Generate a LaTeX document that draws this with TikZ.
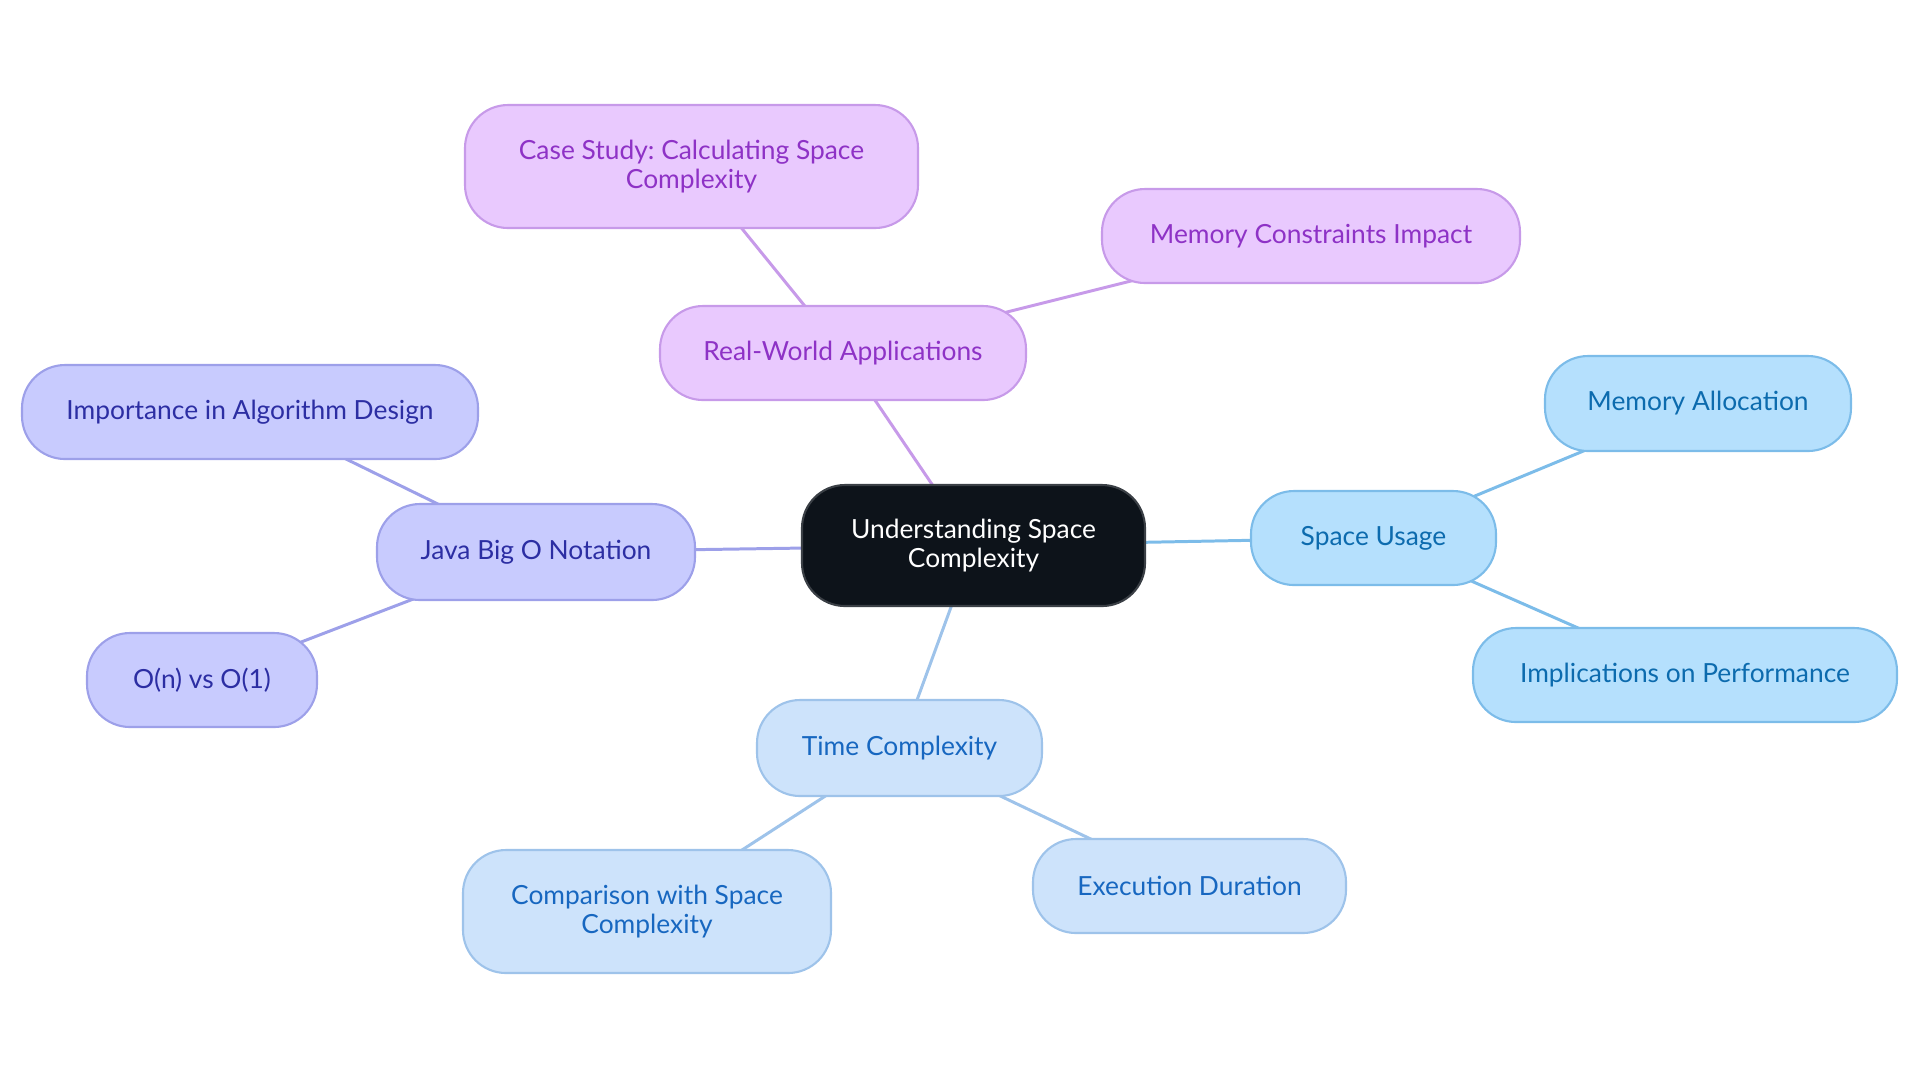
\documentclass[tikz,border=0pt]{standalone}
\usepackage{fontspec}
\setmainfont{Lato}
\usepackage{tikz}
\usetikzlibrary{backgrounds}
\definecolor{rootfill}{HTML}{0D131A}
\definecolor{rootline}{HTML}{3A3F45}
\definecolor{appfill}{HTML}{E9C9FE}
\definecolor{appline}{HTML}{C79AE9}
\definecolor{apptext}{HTML}{8E32C6}
\definecolor{notefill}{HTML}{C8CBFE}
\definecolor{noteline}{HTML}{9DA0E9}
\definecolor{notetext}{HTML}{2C2EA3}
\definecolor{usefill}{HTML}{B5E0FD}
\definecolor{useline}{HTML}{7CBCE9}
\definecolor{usetext}{HTML}{0C6BAE}
\definecolor{timefill}{HTML}{CDE3FB}
\definecolor{timeline}{HTML}{9EC3EA}
\definecolor{timetext}{HTML}{1767C0}
\frenchspacing

\begin{document}
\begin{tikzpicture}[x=0.1mm,y=-0.1mm,
  box/.style={rounded corners=4.3mm,align=center,line width=0.6pt,
    minimum height=9.4mm,inner sep=0pt,font=\fontsize{7.5}{8.1}\selectfont},
  root/.style={box,draw=rootline,fill=rootfill,text=white},
  appbox/.style={box,draw=appline,fill=appfill,text=apptext},
  notebox/.style={box,draw=noteline,fill=notefill,text=notetext},
  usebox/.style={box,draw=useline,fill=usefill,text=usetext},
  timebox/.style={box,draw=timeline,fill=timefill,text=timetext},
  link/.style={line width=0.85pt}]
\useasboundingbox (0,0) rectangle (1920,1083);
\node[root,minimum width=34.3mm,minimum height=12.1mm] (space) at (973.5,545.5)
  {Understanding Space\\Complexity};

% real-world applications
\node[appbox,minimum width=36.6mm] (apps) at (843,353) {Real-World Applications};
\node[appbox,minimum width=45.3mm,minimum height=12.3mm] (casestudy) at (691.5,166.5)
  {Case Study: Calculating Space\\Complexity};
\node[appbox,minimum width=41.8mm] (constraints) at (1311,236) {Memory Constraints Impact};

% java big o notation
\node[notebox,minimum width=31.8mm,minimum height=9.6mm] (bigo) at (536,552) {Java Big O Notation};
\node[notebox,minimum width=45.6mm] (design) at (250,412) {Importance in Algorithm Design};
\node[notebox,minimum width=23mm] (oncmp) at (202,680) {O(n) vs O(1)};

% space usage
\node[usebox,minimum width=24.5mm] (usage) at (1373.5,538) {Space Usage};
\node[usebox,minimum width=30.6mm,minimum height=9.5mm] (alloc) at (1698,403.5) {Memory Allocation};
\node[usebox,minimum width=42.4mm] (perf) at (1685,675) {Implications on Performance};

% time complexity
\node[timebox,minimum width=28.5mm,minimum height=9.6mm] (time) at (899.5,748) {Time Complexity};
\node[timebox,minimum width=36.8mm,minimum height=12.3mm] (compare) at (647,911.5)
  {Comparison with Space\\Complexity};
\node[timebox,minimum width=31.3mm] (duration) at (1189.5,886) {Execution Duration};

% connectors run centre to centre, behind the boxes
\begin{scope}[on background layer]
\draw[link,appline] (space.center) -- (apps.center);
\draw[link,appline] (apps.center) -- (casestudy.center);
\draw[link,appline] (apps.center) -- (constraints.center);
\draw[link,noteline] (space.center) -- (bigo.center);
\draw[link,noteline] (bigo.center) -- (design.center);
\draw[link,noteline] (bigo.center) -- (oncmp.center);
\draw[link,useline] (space.center) -- (usage.center);
\draw[link,useline] (usage.center) -- (alloc.center);
\draw[link,useline] (usage.center) -- (perf.center);
\draw[link,timeline] (space.center) -- (time.center);
\draw[link,timeline] (time.center) -- (compare.center);
\draw[link,timeline] (time.center) -- (duration.center);
\end{scope}
\end{tikzpicture}
\end{document}
